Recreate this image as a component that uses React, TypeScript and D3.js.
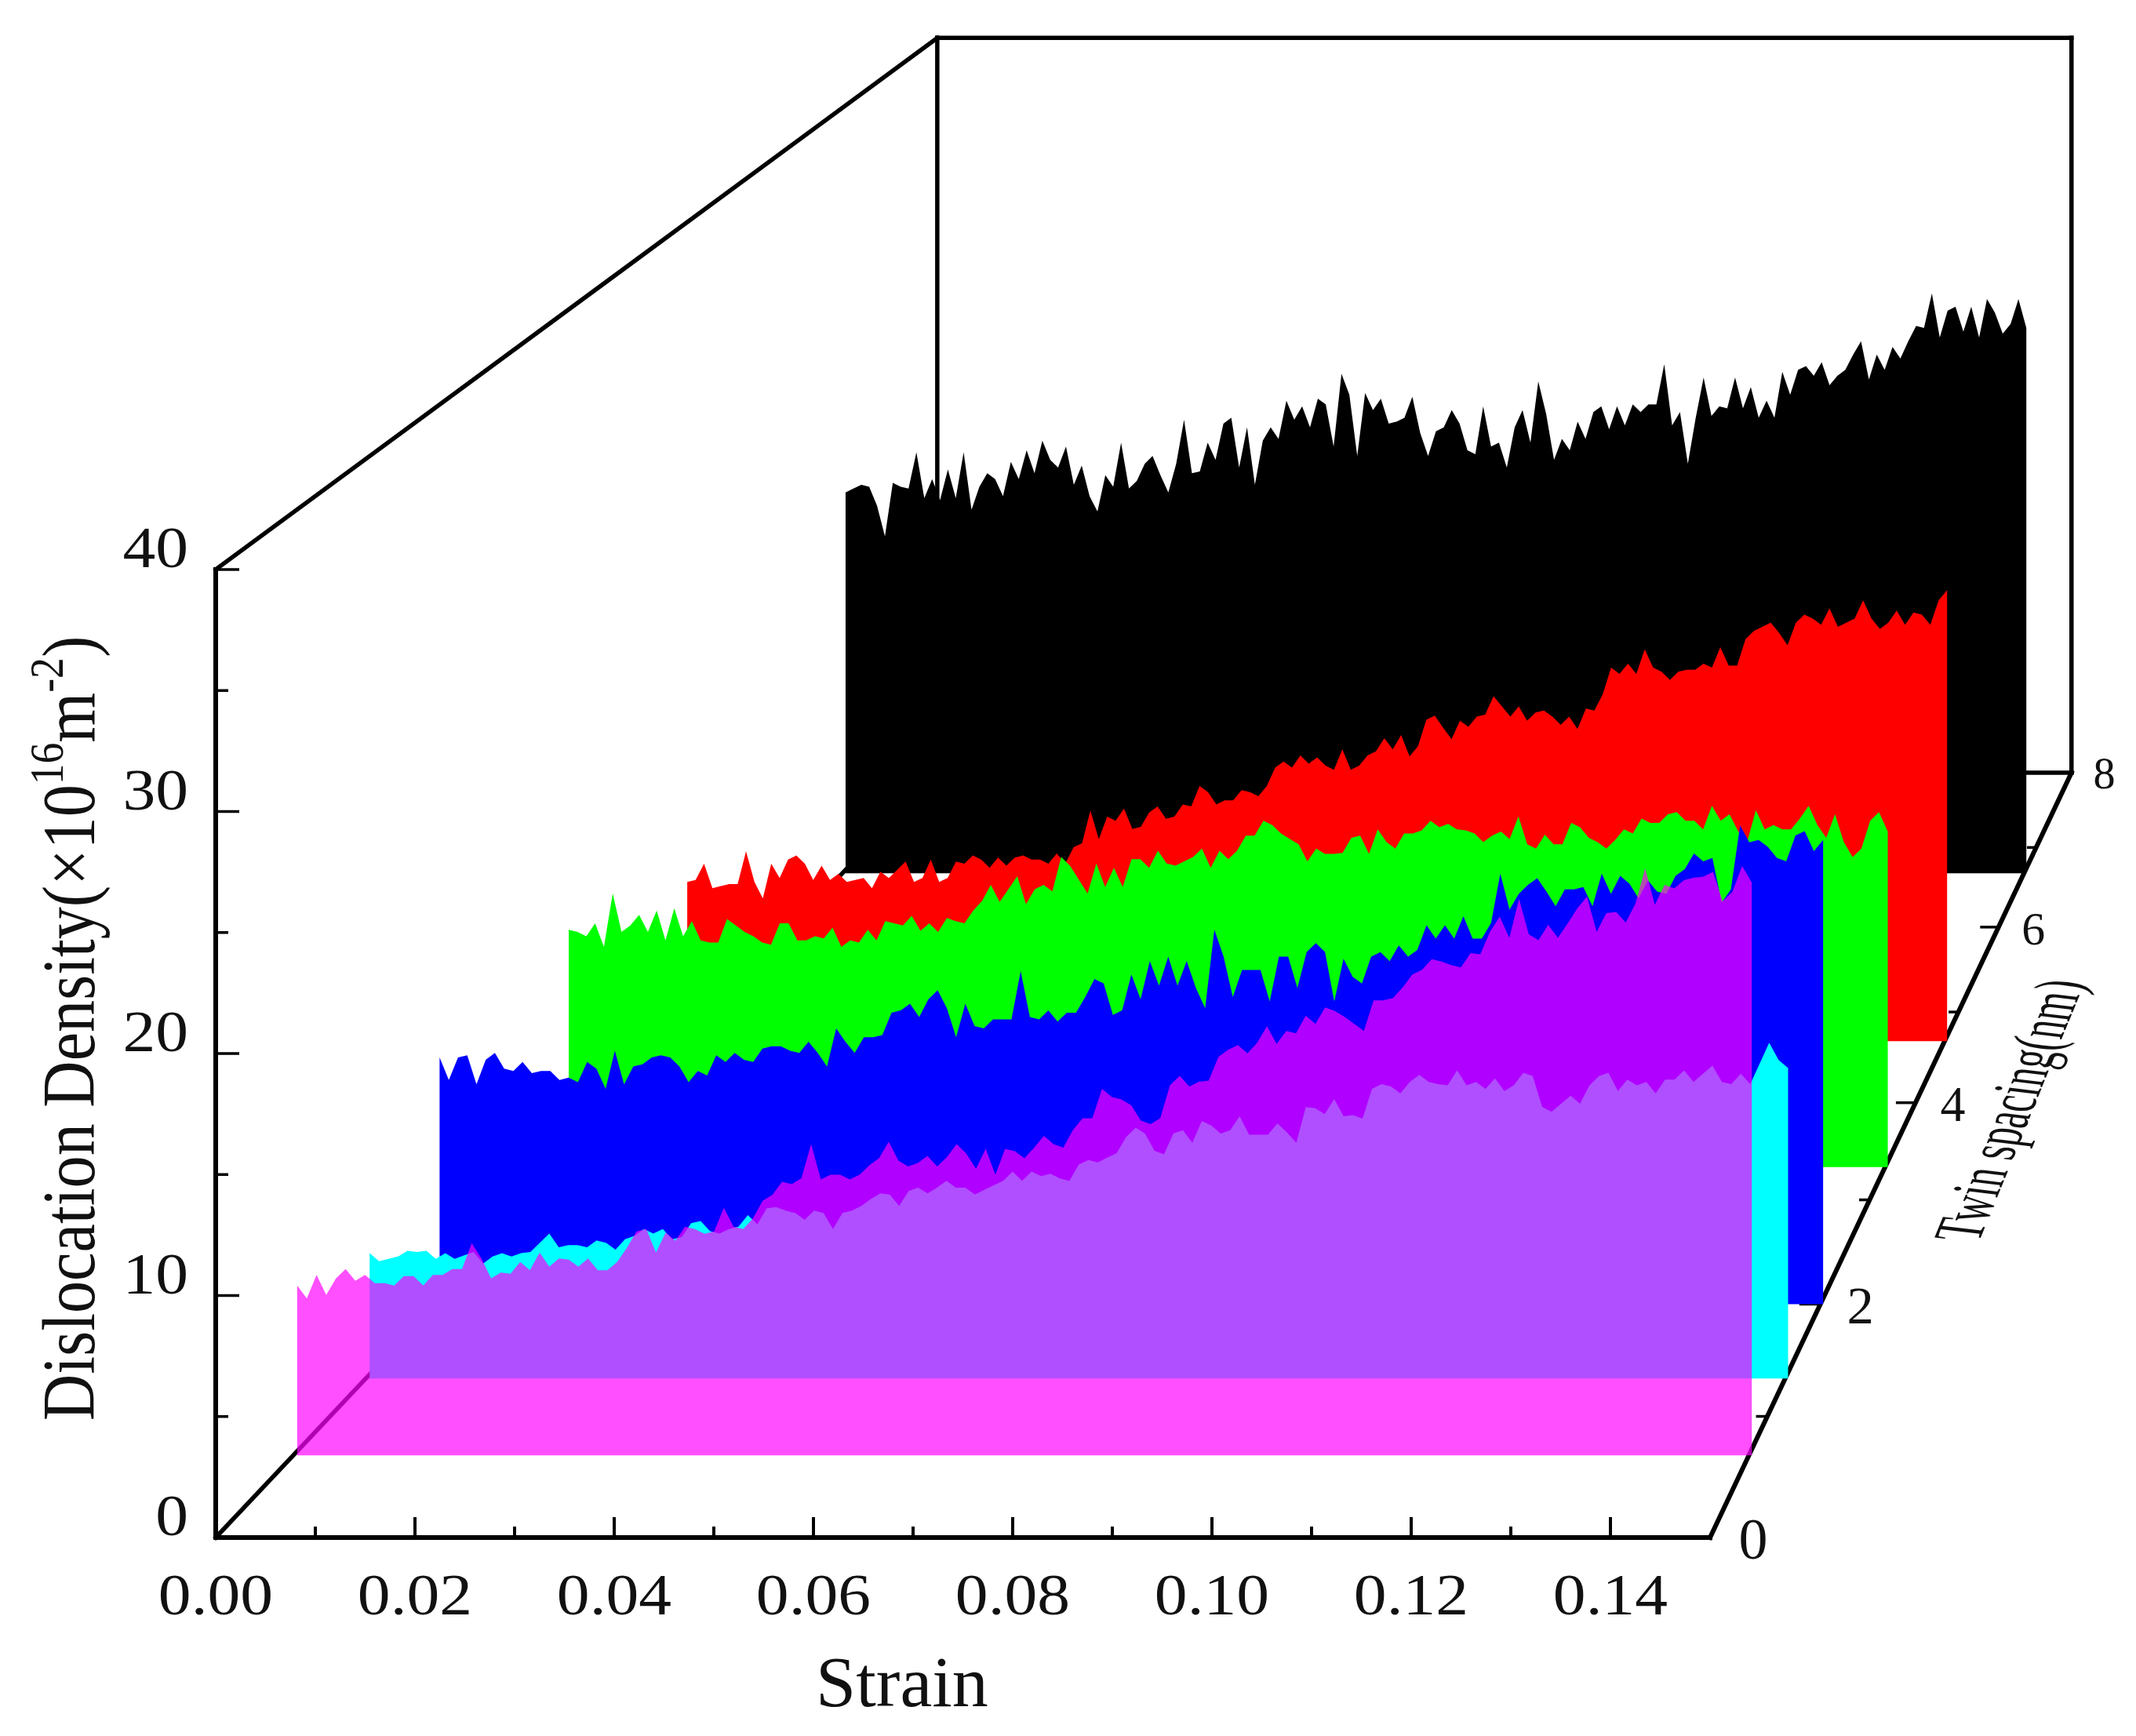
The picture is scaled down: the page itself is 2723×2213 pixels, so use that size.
import * as d3 from 'd3';

const width = 2723;
const height = 2213;

// dislocation density (x10^16 m^-2), one value every 0.001 strain
const blackDensity = [
  19.9, 20.1, 20.3, 20.2, 19.2, 17.6, 20.4, 20.2, 20.1, 22.0, 19.6, 20.6, 19.5, 21.1, 19.6, 22.0, 19.0, 20.2, 20.9, 20.6,
  19.7, 21.5, 20.6, 22.1, 20.9, 22.6, 21.6, 21.2, 22.3, 20.3, 21.3, 19.7, 18.9, 20.8, 20.2, 22.5, 20.1, 20.5, 21.4, 21.8,
  20.8, 19.9, 21.4, 23.7, 20.9, 21.0, 22.5, 21.6, 23.5, 23.8, 21.2, 23.3, 20.3, 22.6, 23.3, 22.7, 24.7, 23.7, 24.4, 23.3,
  24.8, 24.5, 22.3, 26.1, 25.0, 21.8, 25.1, 24.2, 24.8, 23.5, 23.6, 23.8, 24.9, 23.0, 21.8, 23.1, 23.3, 24.2, 23.5, 22.1,
  21.9, 24.4, 22.3, 22.5, 21.2, 23.3, 24.2, 22.5, 25.7, 24.0, 21.6, 22.7, 22.1, 23.6, 22.7, 24.1, 24.4, 23.2, 24.4, 23.4,
  24.5, 24.1, 24.5, 24.5, 26.6, 23.4, 24.1, 21.4, 23.8, 25.9, 23.9, 24.4, 24.3, 25.9, 24.3, 25.4, 23.8, 24.7, 23.8, 26.2,
  25.0, 26.3, 26.5, 26.0, 26.7, 25.5, 26.0, 26.3, 27.1, 27.8, 25.8, 27.1, 26.3, 27.5, 26.9, 27.8, 28.6, 28.5, 30.3, 28.0,
  29.4, 29.6, 28.3, 29.6, 28.0, 30.0, 29.3, 28.2, 28.7, 30.0, 28.5,
];
const redDensity = [
  7.8, 7.9, 8.7, 7.5, 7.6, 7.7, 7.7, 9.3, 7.8, 7.0, 8.7, 8.0, 8.9, 9.1, 8.7, 7.9, 8.6, 7.9, 8.2, 7.8,
  7.9, 8.0, 7.5, 8.3, 8.0, 8.4, 8.8, 7.8, 8.0, 8.9, 7.8, 8.0, 8.8, 8.7, 9.1, 8.9, 8.5, 9.0, 8.6, 9.0,
  9.1, 8.9, 8.9, 8.7, 9.2, 8.7, 9.5, 9.7, 11.3, 9.9, 11.0, 10.8, 11.4, 10.4, 10.5, 11.2, 11.5, 10.9, 11.0, 11.6,
  11.5, 12.5, 12.2, 11.6, 11.8, 11.8, 12.3, 12.2, 12.0, 12.5, 13.4, 13.7, 13.4, 14.0, 13.6, 13.9, 13.5, 13.3, 14.3, 13.3,
  13.5, 14.0, 14.2, 14.85, 14.3, 15.0, 13.95, 14.45, 15.75, 15.95, 15.35, 14.8, 15.7, 15.4, 15.9, 16.0, 16.9, 16.4, 15.9, 16.4,
  15.7, 16.1, 16.2, 15.9, 15.5, 15.9, 15.3, 16.3, 16.2, 17.0, 18.3, 18.0, 18.5, 18.0, 19.2, 18.3, 18.1, 17.7, 18.1, 18.2,
  18.2, 18.5, 18.3, 19.3, 18.4, 18.4, 19.7, 20.1, 20.3, 20.5, 20.0, 19.4, 20.5, 20.9, 20.7, 20.4, 21.2, 20.3, 20.5, 20.7,
  21.6, 20.7, 20.2, 20.5, 21.1, 20.4, 21.0, 20.9, 20.4, 21.6, 22.1,
];
const greenDensity = [
  11.1, 11.0, 10.8, 11.4, 10.3, 12.8, 11.0, 11.3, 11.8, 11.0, 12.0, 10.6, 12.1, 10.8, 11.5, 10.6, 10.5, 10.5, 11.6, 11.3,
  11.0, 10.8, 10.5, 10.4, 11.4, 11.4, 10.6, 10.6, 10.8, 10.7, 11.2, 10.3, 10.6, 10.5, 11.1, 10.6, 11.5, 11.4, 11.3, 11.75,
  11.05, 11.4, 11.0, 11.65, 11.5, 11.4, 12.0, 12.45, 13.2, 12.4, 13.0, 13.6, 12.3, 13.0, 13.2, 12.9, 14.5, 14.1, 13.45, 12.8,
  14.2, 13.1, 14.0, 13.1, 14.4, 14.4, 14.0, 14.8, 14.2, 14.1, 14.3, 14.5, 14.9, 14.0, 14.8, 14.4, 14.8, 15.5, 15.5, 16.2,
  16.0, 15.6, 15.35, 15.1, 14.3, 14.9, 14.65, 14.65, 14.7, 15.4, 15.5, 14.65, 15.8, 15.2, 14.9, 15.6, 15.6, 15.75, 16.2, 15.9,
  16.05, 15.8, 15.75, 15.6, 15.2, 15.5, 15.7, 15.35, 16.4, 15.1, 14.9, 15.55, 15.1, 15.1, 16.1, 15.9, 15.4, 15.2, 14.9, 15.3,
  15.8, 15.6, 16.3, 16.1, 16.1, 16.5, 16.6, 16.2, 16.2, 15.8, 16.9, 16.2, 16.5, 15.7, 15.2, 16.7, 15.8, 16.0, 15.8, 15.8,
  16.3, 16.9, 16.0, 15.4, 16.5, 15.2, 14.5, 14.9, 16.2, 16.6, 15.7,
];
const blueDensity = [
  11.0, 10.0, 11.0, 11.1, 9.8, 10.9, 11.2, 10.5, 10.4, 10.8, 10.3, 10.4, 10.4, 10.0, 10.1, 9.9, 10.8, 10.5, 9.6, 11.3,
  9.8, 10.6, 10.7, 11.0, 11.1, 11.0, 10.6, 9.9, 10.4, 10.2, 11.1, 10.8, 11.2, 10.9, 10.8, 11.4, 11.5, 11.5, 11.3, 11.2,
  11.7, 11.2, 10.6, 12.3, 11.7, 11.2, 11.9, 11.9, 12.0, 13.0, 13.1, 13.4, 12.8, 13.6, 14.0, 13.2, 11.9, 13.4, 12.4, 12.3,
  12.7, 12.7, 12.7, 14.85, 12.8, 12.7, 13.1, 12.6, 13.0, 13.0, 13.7, 14.5, 14.3, 12.9, 13.1, 14.7, 13.6, 15.3, 14.2, 15.5,
  14.2, 15.3, 14.1, 13.2, 16.7, 15.5, 13.7, 14.9, 14.9, 14.9, 13.5, 15.5, 15.5, 14.1, 15.7, 16.1, 15.7, 13.5, 15.4, 14.6,
  14.3, 15.5, 15.7, 15.3, 16.0, 15.5, 15.8, 16.9, 16.3, 16.9, 16.3, 17.3, 16.3, 16.3, 17.0, 19.2, 17.6, 18.3, 18.7, 19.0,
  18.4, 17.75, 18.5, 18.5, 18.6, 17.75, 19.2, 18.3, 19.1, 18.75, 18.1, 18.9, 18.4, 18.3, 19.1, 19.4, 20.1, 19.75, 19.9, 17.9,
  18.5, 21.35, 20.6, 20.7, 20.4, 19.9, 19.75, 20.9, 21.1, 20.2, 20.7,
];
const cyanDensity = [
  5.45, 5.1, 5.2, 5.3, 5.55, 5.5, 5.55, 5.2, 5.45, 5.2, 5.35, 5.5, 5.0, 5.3, 5.45, 5.3, 5.45, 5.5, 5.9, 6.3,
  5.7, 5.8, 5.8, 5.7, 6.0, 5.9, 5.6, 6.05, 6.2, 6.5, 6.3, 6.5, 6.05, 6.15, 6.75, 6.85, 6.4, 6.3, 6.5, 6.6,
  7.1, 6.7, 7.4, 7.45, 7.3, 7.2, 6.9, 7.3, 7.2, 6.5, 7.2, 7.3, 7.5, 7.8, 8.05, 8.0, 7.5, 8.15, 8.3, 8.05,
  8.3, 8.6, 8.3, 8.3, 8.0, 8.2, 8.4, 8.6, 9.0, 8.6, 9.0, 8.8, 8.9, 8.7, 8.6, 9.3, 9.5, 9.4, 9.6, 9.8,
  10.5, 10.9, 10.65, 9.9, 9.75, 10.65, 10.8, 10.25, 11.2, 11.0, 10.65, 10.8, 11.4, 10.6, 10.6, 10.6, 11.1, 10.7, 10.25, 11.8,
  11.75, 11.5, 12.15, 11.4, 11.45, 11.3, 12.6, 12.8, 12.7, 12.4, 12.9, 13.2, 12.9, 12.8, 12.75, 13.4, 12.75, 12.9, 12.6, 13.05,
  12.5, 12.75, 13.3, 13.15, 11.8, 11.6, 11.95, 12.3, 11.95, 12.75, 13.15, 13.3, 12.5, 13.0, 12.75, 12.9, 12.4, 13.0, 13.0, 13.4,
  12.9, 13.25, 13.6, 12.9, 12.8, 13.25, 12.8, 13.7, 14.6, 13.85, 13.5,
];
const magentaDensity = [
  7.2, 6.65, 7.65, 6.8, 7.5, 7.9, 7.4, 7.65, 7.3, 7.3, 7.2, 7.6, 7.6, 7.2, 7.65, 7.65, 7.9, 7.9, 9.0, 8.35,
  7.5, 7.75, 7.7, 8.2, 7.85, 8.6, 8.0, 8.35, 8.3, 8.0, 8.35, 7.85, 7.85, 8.2, 8.8, 9.5, 9.6, 8.6, 9.45, 9.1,
  9.7, 9.6, 9.4, 9.5, 10.5, 9.7, 9.6, 10.05, 10.8, 11.05, 11.6, 11.5, 11.75, 13.2, 11.7, 11.9, 11.9, 11.7, 11.9, 12.3,
  12.6, 13.3, 12.5, 12.25, 12.4, 12.7, 12.25, 12.65, 13.2, 12.8, 12.15, 13.0, 11.9, 13.0, 12.9, 12.6, 13.05, 13.55, 13.2, 13.05,
  13.8, 14.3, 14.3, 15.55, 15.2, 15.1, 14.85, 14.2, 14.05, 14.3, 15.7, 16.1, 15.65, 15.85, 15.9, 16.9, 17.2, 17.4, 17.05, 17.5,
  18.2, 17.45, 18.0, 17.9, 18.65, 18.3, 19.0, 18.85, 18.6, 18.3, 18.0, 19.3, 19.3, 19.4, 19.85, 20.4, 20.6, 21.05, 20.95, 20.8,
  20.7, 21.3, 21.25, 22.2, 22.85, 21.95, 23.6, 22.1, 21.85, 22.5, 21.95, 22.55, 23.2, 23.7, 22.2, 23.0, 23.05, 22.6, 23.4, 24.9,
  23.35, 24.2, 24.05, 24.4, 24.5, 24.55, 24.75, 23.5, 23.9, 25.0, 24.3,
];

const seriesDepths = [6.67, 4.67, 3.33, 2, 1.33, 0.67];
const seriesValues = [blackDensity, redDensity, greenDensity, blueDensity, cyanDensity, magentaDensity];
const seriesColors = ['#000000', '#ff0000', '#00ff00', '#0000ff', '#00ffff', '#ff00ff'];
const seriesOpacity = [1, 1, 1, 1, 1, 0.69];

const strainMajor = [0, 0.02, 0.04, 0.06, 0.08, 0.1, 0.12, 0.14];
const strainMinor = [0.01, 0.03, 0.05, 0.07, 0.09, 0.11, 0.13];
const densityMajor = [0, 10, 20, 30, 40];
const densityMinor = [5, 15, 25, 35];
const depthMajor = [0, 2, 4, 6, 8];
const depthMinor = [1, 3, 5, 7];

// front plane of the box, the picture is a true perspective view towards one vanishing point
const x = d3.scaleLinear().domain([0, 0.15]).range([275, 2180]);
const y = d3.scaleLinear().domain([0, 40]).range([1960, 726]);
const w = d3.scaleLinear().domain([0, 8]).range([1, 1.3175]);
const vx = 4092;
const vy = -2086;

const px = (strain: number, depth: number) => vx + (x(strain) - vx) / w(depth);
const py = (density: number, depth: number) => vy + (y(density) - vy) / w(depth);

const serif = '"Liberation Serif", "Times New Roman", serif';
const ink = '#000000';

function Edge({ a, b, size = 5.5 }: { a: number[]; b: number[]; size?: number }) {
  return (
    <line
      x1={px(a[0], a[1])}
      y1={py(a[2], a[1])}
      x2={px(b[0], b[1])}
      y2={py(b[2], b[1])}
      stroke={ink}
      strokeWidth={size}
      strokeLinecap="square"
    />
  );
}

export default function App() {
  return (
    <svg
      width={width}
      height={height}
      viewBox={`0 0 ${width} ${height}`}
      style={{ position: 'absolute', left: 0, top: 0, background: '#fff' }}
      fontFamily={serif}
    >
      {/* box */}
      <Edge a={[0, 0, 0]} b={[0, 8, 0]} />
      <Edge a={[0, 0, 40]} b={[0, 8, 40]} />
      <Edge a={[0, 8, 0]} b={[0, 8, 40]} />
      <Edge a={[0, 8, 40]} b={[0.15, 8, 40]} />
      <Edge a={[0.15, 8, 0]} b={[0.15, 8, 40]} />
      <Edge a={[0, 8, 0]} b={[0.15, 8, 0]} />
      <Edge a={[0.15, 0, 0]} b={[0.15, 8, 0]} size={6} />
      <Edge a={[0, 0, 0]} b={[0.15, 0, 0]} size={6} />
      <Edge a={[0, 0, 0]} b={[0, 0, 40]} size={6} />

      {/* strain ticks */}
      {strainMajor.map((t) => (
        <g key={t}>
          <line x1={x(t)} x2={x(t)} y1={y(0)} y2={y(0) - 26} stroke={ink} strokeWidth={4} />
          <text
            transform={`translate(${x(t)},2058) scale(1.13,1)`}
            textAnchor="middle"
            fontSize={74}
            fill="#111"
          >
            {t.toFixed(2)}
          </text>
        </g>
      ))}
      {strainMinor.map((t) => (
        <line key={t} x1={x(t)} x2={x(t)} y1={y(0)} y2={y(0) - 14} stroke={ink} strokeWidth={4} />
      ))}

      {/* density ticks */}
      {densityMajor.map((t) => (
        <g key={t}>
          <line x1={x(0)} x2={x(0) + 30} y1={y(t)} y2={y(t)} stroke={ink} strokeWidth={3.5} />
          <text
            transform={`translate(240,${y(t) - 3}) scale(1.13,1)`}
            textAnchor="end"
            fontSize={74}
            fill="#111"
          >
            {t}
          </text>
        </g>
      ))}
      {densityMinor.map((t) => (
        <line key={t} x1={x(0)} x2={x(0) + 16} y1={y(t)} y2={y(t)} stroke={ink} strokeWidth={3.5} />
      ))}

      {/* twin spacing ticks */}
      {depthMajor.map((d) => (
        <g key={d}>
          <line
            x1={px(0.15, d)}
            x2={px(0.15, d) - 29 / w(d)}
            y1={py(0, d)}
            y2={py(0, d)}
            stroke={ink}
            strokeWidth={3.5}
          />
          <text
            x={px(0.15, d) + 55 / w(d)}
            y={py(0, d) + 27 / w(d)}
            textAnchor="middle"
            fontSize={74 / w(d)}
            fill="#111"
          >
            {d}
          </text>
        </g>
      ))}
      {depthMinor.map((d) => (
        <line
          key={d}
          x1={px(0.15, d)}
          x2={px(0.15, d) - 15 / w(d)}
          y1={py(0, d)}
          y2={py(0, d)}
          stroke={ink}
          strokeWidth={3.5}
        />
      ))}

      {/* series, back to front */}
      {seriesValues.map((values, s) => {
        const depth = seriesDepths[s];
        const strainAt = d3.scaleLinear().domain([0, values.length - 1]).range([0.0004, 0.1503]);
        const area = d3
          .area<number>()
          .x((_, i) => px(strainAt(i), depth))
          .y0(() => py(0, depth))
          .y1((v) => py(v, depth));
        return (
          <path key={depth} d={area(values) ?? ''} fill={seriesColors[s]} fillOpacity={seriesOpacity[s]} />
        );
      })}

      {/* titles */}
      <text x={1150} y={2175} textAnchor="middle" fontSize={92} fill="#111">
        Strain
      </text>
      <text transform="translate(120,1811) rotate(-90) scale(0.865,1)" fontSize={95} fill="#111">
        Dislocation Density(×10
        <tspan dy={-40} fontSize={62}>
          16
        </tspan>
        <tspan dy={40}>m</tspan>
        <tspan dy={-40} fontSize={62}>
          -2
        </tspan>
        <tspan dy={40}>)</tspan>
      </text>
      <text transform="matrix(0.31,-0.76,1.43,0.17,2522,1585)" fontSize={60} fill="#111">
        Twin spacing(nm)
      </text>
    </svg>
  );
}
